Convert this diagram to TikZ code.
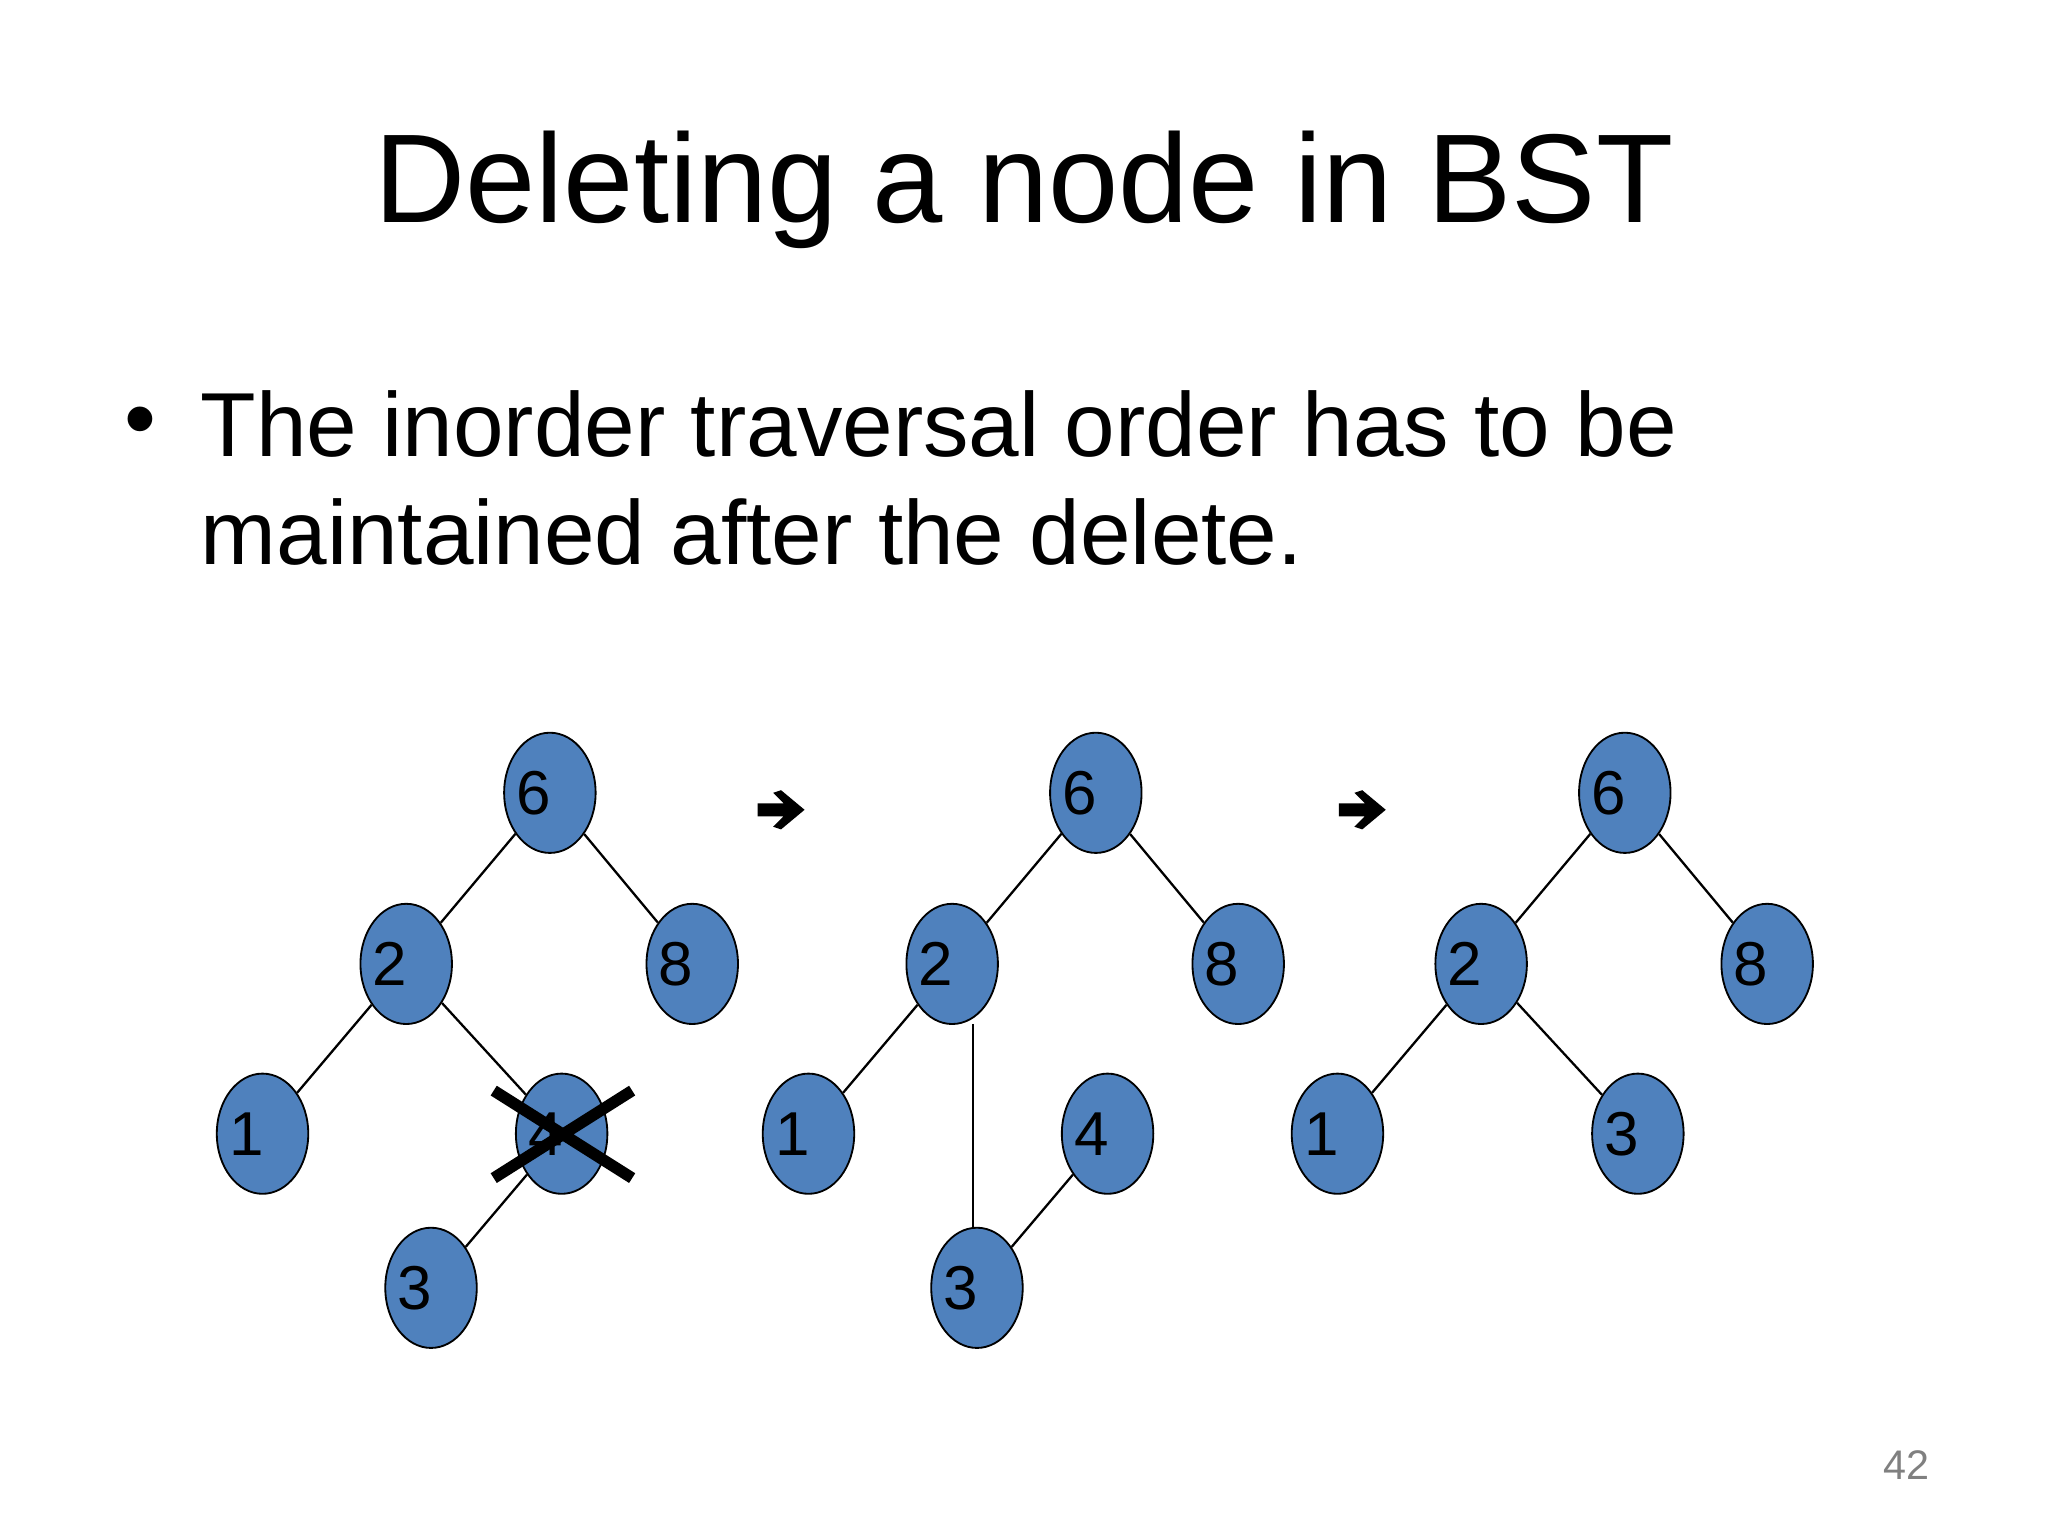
\documentclass[tikz,border=0pt]{standalone}
\usepackage{fontspec}
\setmainfont{Liberation Sans}
\usetikzlibrary{shapes.geometric}
\begin{document}
\begin{tikzpicture}[x=0.01cm,y=-0.01cm,
  bn/.style={ellipse,draw=black,fill={rgb,255:red,79;green,129;blue,189},minimum width=0.7cm,minimum height=0.92cm,inner sep=0pt},
  lab/.style={font=\fontsize{13.5}{13.5}\selectfont},
  ed/.style={draw=black,line width=0.5pt}]
\useasboundingbox (0,0) rectangle (1568,1176);
\node[font=\fontsize{27.5}{27.5}\selectfont] (title) at (784,145) {Deleting a node in BST};
\node[anchor=west,font=\fontsize{19.8}{19.8}\selectfont,inner sep=0pt] (bul) at (95,328) {•};
\node[anchor=north west,align=left,font=\fontsize{19.8}{23.6}\selectfont,inner sep=0pt] (txt) at (153,298) {The inorder traversal order has to be\\maintained after the delete.};
\newcommand{\bnode}[3]{\node[bn] (#1) at #2 {}; \node[lab,anchor=west] at ([xshift=-0.38cm]#1.center) {#3};}
% tree 1
\bnode{a6}{(421,607)}{6}\bnode{a2}{(311,738)}{2}\bnode{a8}{(530,738)}{8}
\bnode{a1}{(201,868)}{1}\bnode{a4}{(430,868)}{4}\bnode{a3}{(330,986)}{3}
\draw[ed] (a6)--(a2) (a6)--(a8) (a2)--(a1) (a2)--(a4) (a4)--(a3);
\draw[line width=2.5pt] (378,835)--(484,902) (378,902)--(484,835);
% tree 2
\bnode{b6}{(839,607)}{6}\bnode{b2}{(729,738)}{2}\bnode{b8}{(948,738)}{8}
\bnode{b1}{(619,868)}{1}\bnode{b4}{(848,868)}{4}\bnode{b3}{(748,986)}{3}
\draw[ed] (b6)--(b2) (b6)--(b8) (b2)--(b1) (b4)--(b3);
\coordinate (bt) at (745,784); \coordinate (bb) at (745,940);
\draw[ed] (bt)--(bb);
% tree 3
\bnode{c6}{(1244,607)}{6}\bnode{c2}{(1134,738)}{2}\bnode{c8}{(1353,738)}{8}
\bnode{c1}{(1024,868)}{1}\bnode{c3}{(1254,868)}{3}
\draw[ed] (c6)--(c2) (c6)--(c8) (c2)--(c1) (c2)--(c3);
% arrows
\foreach \x in {598,1043}{
 \fill (\x-18,615)--(\x+2,615)--(\x-6,607)--(\x+0,605)--(\x+18,620)--(\x+0,635)--(\x-6,633)--(\x+2,625)--(\x-18,625)--cycle;}
\node[text=gray,font=\fontsize{9}{9}\selectfont] (pg) at (1460,1122) {42};
\end{tikzpicture}
\end{document}
